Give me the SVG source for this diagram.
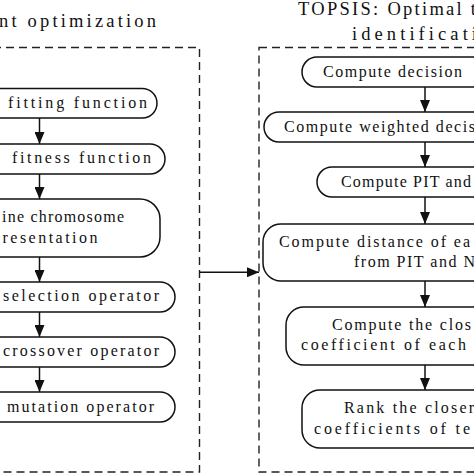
<svg xmlns="http://www.w3.org/2000/svg" width="474" height="474" viewBox="0 0 474 474">
<style>
.bg{fill:#fff}
.frame{fill:none;stroke:#222;stroke-width:1.4;stroke-dasharray:8 5}
.box{fill:#fff;stroke:#111;stroke-width:1.5}
.t{font-family:"Liberation Serif","Times New Roman",serif;font-size:16px;fill:#111}
.title{font-family:"Liberation Serif","Times New Roman",serif;font-size:18.5px;fill:#111}
.arr{fill:none;stroke:#111;stroke-width:1.5;marker-end:url(#ah)}
</style>
<defs>
<marker id="ah" viewBox="0 0 12 10" refX="12" refY="5" markerWidth="12" markerHeight="10" markerUnits="userSpaceOnUse" orient="auto">
<path d="M0,0 L12,5 L0,10 z" fill="#111"/>
</marker>
</defs>
<rect class="bg" x="0" y="0" width="474" height="474"/>
<g id="titles">
<text class="title" x="-1" y="27" textLength="157" lengthAdjust="spacing">nt optimization</text>
<text class="title" x="298" y="15" textLength="178" lengthAdjust="spacing">TOPSIS: Optimal t</text>
<text class="title" x="352" y="40" textLength="125" lengthAdjust="spacing">identificati</text>
</g>
<g id="frame-left"><rect class="frame" x="-20" y="47.5" width="219.5" height="424.5"/></g>
<g id="frame-right"><rect class="frame" x="259" y="47.5" width="240" height="424.5"/></g>
<g id="connectors">
<path class="arr" d="M39.5,118 V144"/>
<path class="arr" d="M39.5,174 V199"/>
<path class="arr" d="M39.5,257 V282"/>
<path class="arr" d="M39.5,312 V337"/>
<path class="arr" d="M39.5,367 V392"/>
<path class="arr" d="M199.5,272.3 H259"/>
<path class="arr" d="M425,87 V112"/>
<path class="arr" d="M425,142 V167"/>
<path class="arr" d="M425,197 V224"/>
<path class="arr" d="M425,281 V307"/>
<path class="arr" d="M425,365 V390"/>
</g>
<g id="n1"><rect class="box" x="-60" y="88.5" width="217" height="29.5" rx="14.75"/><text class="t" x="8" y="108" textLength="139" lengthAdjust="spacing">fitting function</text></g>
<g id="n2"><rect class="box" x="-60" y="144" width="225" height="30" rx="15"/><text class="t" x="12" y="163" textLength="139" lengthAdjust="spacing">fitness function</text></g>
<g id="n3"><rect class="box" x="-60" y="199" width="220" height="58" rx="20"/><text class="t" x="2" y="222" textLength="122" lengthAdjust="spacing">ine chromosome</text><text class="t" x="2.5" y="243" textLength="95" lengthAdjust="spacing">resentation</text></g>
<g id="n4"><rect class="box" x="-60" y="282" width="235" height="30" rx="15"/><text class="t" x="3" y="301" textLength="156" lengthAdjust="spacing">selection operator</text></g>
<g id="n5"><rect class="box" x="-60" y="337" width="235" height="30" rx="15"/><text class="t" x="3" y="356" textLength="156" lengthAdjust="spacing">crossover operator</text></g>
<g id="n6"><rect class="box" x="-60" y="392" width="235" height="30" rx="15"/><text class="t" x="7" y="412" textLength="147" lengthAdjust="spacing">mutation operator</text></g>
<g id="r1"><rect class="box" x="302" y="57" width="250" height="30" rx="15"/><text class="t" x="323" y="77" textLength="139" lengthAdjust="spacing">Compute decision</text></g>
<g id="r2"><rect class="box" x="264" y="112" width="290" height="30" rx="15"/><text class="t" x="284" y="132" textLength="191" lengthAdjust="spacing">Compute weighted decis</text></g>
<g id="r3"><rect class="box" x="317" y="167" width="240" height="30" rx="15"/><text class="t" x="341" y="187" textLength="130" lengthAdjust="spacing">Compute PIT and</text></g>
<g id="r4"><rect class="box" x="263" y="224" width="290" height="57" rx="18"/><text class="t" x="279" y="247" textLength="191" lengthAdjust="spacing">Compute distance of ea</text><text class="t" x="354" y="267" textLength="121" lengthAdjust="spacing">from PIT and N</text></g>
<g id="r5"><rect class="box" x="286" y="307" width="270" height="58" rx="18"/><text class="t" x="332" y="330" textLength="139" lengthAdjust="spacing">Compute the clos</text><text class="t" x="301" y="350" textLength="165" lengthAdjust="spacing">coefficient of each</text></g>
<g id="r6"><rect class="box" x="302" y="390" width="250" height="58" rx="18"/><text class="t" x="344" y="413" textLength="130" lengthAdjust="spacing">Rank the closer</text><text class="t" x="314" y="434" textLength="156" lengthAdjust="spacing">coefficients of te</text></g>
</svg>
